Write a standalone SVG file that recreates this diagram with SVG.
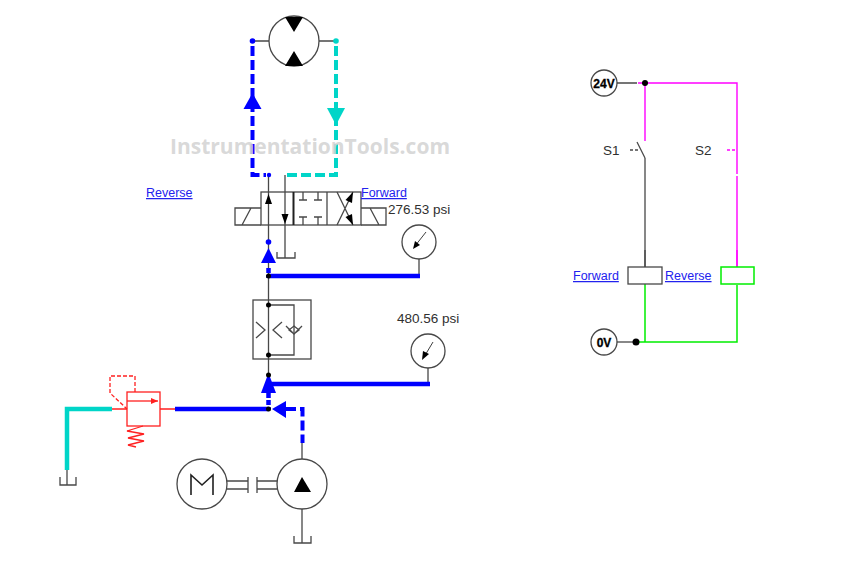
<svg xmlns="http://www.w3.org/2000/svg" width="860" height="576" viewBox="0 0 860 576">
<style>
.k{fill:none;stroke:#484848;stroke-width:1.3}
.b{fill:none;stroke:#0000ff;stroke-width:4.5}
.bd{fill:none;stroke:#0000ff;stroke-width:4;stroke-dasharray:10 4}
.cd{fill:none;stroke:#00d5c8;stroke-width:4;stroke-dasharray:10 4}
.c{fill:none;stroke:#00d5c8;stroke-width:4.500}
.r{fill:none;stroke:#ff2020;stroke-width:1.3}
.m{fill:none;stroke:#ff00ff;stroke-width:1.4}
.g{fill:none;stroke:#00ee00;stroke-width:1.5}
.t{font-family:"Liberation Sans",Arial,sans-serif;font-size:13.5px;fill:#303030}
.l{font-family:"Liberation Sans",Arial,sans-serif;font-size:12.5px;fill:#2222ee;text-decoration:underline}
.v{font-family:"Liberation Sans",Arial,sans-serif;font-size:12px;font-weight:bold;fill:#000;text-anchor:middle}
</style>
<rect width="860" height="576" fill="#ffffff"/>
<g id="connectors">
<path class="k" d="M252.5 41H269M319 41H336"/>
<path class="k" d="M268.5 175V276M285 175V258"/>
<path class="k" d="M268.5 276V375M419 259V276M428 368V384"/>
<path class="k" d="M302 443V459M302 509V543"/>
<path class="k" d="M67 470V485"/>
<path class="bd" d="M252.5 46V175H266"/>
<path class="cd" d="M336 46V175H287"/>
<path class="b" d="M268.5 276H420M268.5 384H430M175 409H268.5"/>
<path class="b" d="M268.5 268V278" stroke-dasharray="5 2"/>
<path class="b" d="M268.5 393V409" stroke-dasharray="5 2"/>
<path class="bd" d="M286 409H302.500V443"/>
<path class="c" d="M112 409H67V470"/>
<path class="r" d="M112 409H127M160 409H175"/>
<path class="m" d="M638 83H737V174M737 176V267M645 83V141"/>
<path class="k" d="M617 83H637M645 158V267"/>
<path class="k" d="M617 342H636"/>
<path class="g" d="M636 342H737V285M645 284V342"/>
<path fill="#0000ff" d="M243.500 109H261.500L252.500 93ZM261 263H276L268.500 248ZM261 393H276L268.500 373ZM272 409L286 401V418Z"/>
<path fill="#00d5c8" d="M327 108H345L336 125Z"/>
<g fill="#000">
<circle cx="268.500" cy="276" r="2.500"/><circle cx="268.500" cy="375" r="2.500"/><circle cx="268.500" cy="409" r="2.500"/>
<circle cx="645" cy="83" r="3"/><circle cx="636" cy="342" r="3.500"/>
</g>
<circle cx="252.500" cy="41" r="2.800" fill="#0000ff"/><circle cx="336" cy="41" r="2.800" fill="#00d5c8"/><circle cx="269" cy="175" r="2.200" fill="#0000ff"/><circle cx="268.500" cy="242" r="2.800" fill="#0000ff"/>
</g>
<g id="hydraulic-motor">
<circle class="k" cx="294" cy="41" r="25" fill="#fff"/>
<path d="M285 17H303L294 32ZM285 66H303L294 51Z" fill="#000"/>
</g>
<g id="directional-valve">
<rect class="k" x="261" y="192" width="100" height="33"/>
<path class="k" d="M327 192V225" />
<path d="M293.500 192V225" stroke="#202020" stroke-width="2" fill="none"/>
<path class="k" d="M303 192V200M299 200H307M318 192V200M314 200H322M303 217V225M299 217H307M318 217V225M314 217H322"/>
<path class="k" d="M337 225L353 192M337 192L353 225"/>
<path d="M353 192L352 203L345.500 200ZM353 225L352 214L345.500 217ZM268.500 194L265 204H272ZM285 224L281.500 214H288.500Z" fill="#000"/>
<path class="k" d="M261 208H235V225H261M242 225L251 208"/>
<path class="k" d="M361 208H386V225H361M370 208L379 225"/>
</g>
<g id="tank-valve"><path class="k" d="M277 252V258H295V252"/></g>
<g id="gauge-upper">
<circle class="k" cx="419" cy="242" r="17"/>
<path d="M426 232L415 246" stroke="#404040" fill="none"/><path d="M413 249L415 241L420 245Z" fill="#000"/>
</g>
<g id="flow-control">
<rect class="k" x="253" y="300" width="58" height="59"/>
<path class="k" d="M268.500 305H294V355H268.500"/>
<path class="k" d="M256 322L265 330L256 338M282 322L273 330L282 338M286 326L294 334L302 326M289 330L294 326L299 330L294 334Z"/>
<circle cx="268.500" cy="305" r="2.500"/><circle cx="268.500" cy="355" r="2.500"/>
</g>
<g id="gauge-lower">
<circle class="k" cx="428" cy="351" r="17"/>
<path d="M433 342L424 357" stroke="#404040" fill="none"/><path d="M422 360L423 351L429 354Z" fill="#000"/>
</g>
<g id="relief-valve">
<rect class="r" x="127" y="392" width="33" height="34" stroke-width="1.600"/>
<path class="r" d="M127 401H158"/>
<path d="M151 398L158 401L151 404Z" fill="#ff2020"/>
<path class="r" d="M135 392V376H110V393L127 409" stroke-dasharray="4 2"/>
<path class="r" d="M143 426L127 431L144 434L128 438L144 441L128 445L136 447"/>
</g>
<g id="tank-relief"><path class="k" d="M60 477V485H76V477"/></g>
<g id="electric-motor">
<circle class="k" cx="202" cy="484" r="25"/>
<path d="M191 495V475L202 485L213 475V495" fill="none" stroke="#202020" stroke-width="1.600"/>
</g>
<g id="coupling">
<path class="k" d="M227 481H248M227 489H248M248 477V493M257 477V493M257 481H277M257 489H277"/>
</g>
<g id="pump">
<circle class="k" cx="302" cy="484" r="25"/>
<path d="M294 492H311L302 477Z" fill="#000"/>
<path class="k" d="M294 536V543H311V536"/>
</g>
<g id="supply-24v">
<circle class="k" cx="604" cy="83" r="13"/>
<text class="v" x="604" y="88" stroke="#000" stroke-width="0.300">24V</text>
</g>
<g id="switch-s1">
<path class="k" d="M637 142L645 158"/>
<path class="k" d="M630 150H639" stroke-dasharray="3 2"/>
</g>
<g id="switch-s2">
<path class="m" d="M727 150H737" stroke-dasharray="3 2"/>
</g>
<g id="coil-forward">
<path class="k" d="M645 250V267"/>
<rect class="k" x="628" y="267" width="34" height="17"/>
</g>
<g id="coil-reverse">
<path class="m" d="M737 250V267"/>
<rect class="g" x="721" y="267" width="33" height="17"/>
</g>
<g id="supply-0v">
<circle class="k" cx="604" cy="342" r="13"/>
<text class="v" x="604" y="347" stroke="#000" stroke-width="0.300">0V</text>
</g>
<g id="labels">
<text x="170" y="154" font-family="'Open Sans',sans-serif" font-size="21px" font-weight="bold" fill="#d4d4d4" fill-opacity="0.9">InstrumentationTools.com</text>
<text class="l" x="146" y="197">Reverse</text>
<text class="l" x="361" y="197">Forward</text>
<text class="t" x="388" y="214">276.53 psi</text>
<text class="t" x="397" y="323">480.56 psi</text>
<text class="t" x="603" y="155">S1</text>
<text class="t" x="695" y="155">S2</text>
<text class="l" x="573" y="280">Forward</text>
<text class="l" x="665" y="280">Reverse</text>
</g>
</svg>
